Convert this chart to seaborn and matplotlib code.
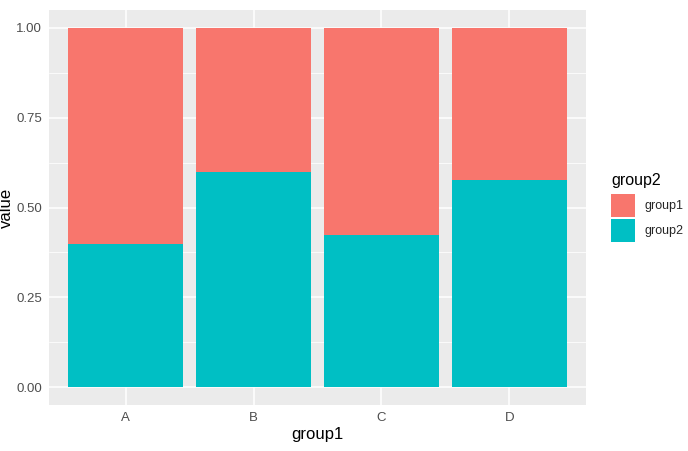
import numpy as np
import pandas as pd
import matplotlib
matplotlib.use("Agg")
from matplotlib import pyplot as plt
from matplotlib.patches import Patch
import seaborn as sns

# data (proportions per bar)
categories = ["A", "B", "C", "D"]
group1_vals = [0.602, 0.402, 0.577, 0.423]
group2_vals = [0.398, 0.598, 0.423, 0.577]

df = pd.DataFrame({"group1": categories,
                   "g1": group1_vals,
                   "g2": group2_vals})
df["top"] = df["g1"] + df["g2"]

red = "#F8766D"
teal = "#00BFC4"

sns.set_theme(style="darkgrid")
plt.rcParams["font.family"] = ["Liberation Sans", "DejaVu Sans"]

fig = plt.figure(figsize=(6.88, 4.51), dpi=100)
ax = fig.add_axes([49 / 688, 45.7 / 451, 537 / 688, 395.6 / 451])
ax.set_facecolor("#EBEBEB")

# stacked: full height in red, then group2 at the bottom in teal
sns.barplot(data=df, x="group1", y="top", color=red, width=0.9,
            saturation=1, linewidth=0, ax=ax, zorder=3)
sns.barplot(data=df, x="group1", y="g2", color=teal, width=0.9,
            saturation=1, linewidth=0, ax=ax, zorder=3)

ax.set_xlim(-0.6, 3.6)
ax.set_ylim(-0.05, 1.05)
ax.set_yticks([0, 0.25, 0.5, 0.75, 1.0])
ax.set_yticklabels(["0.00", "0.25", "0.50", "0.75", "1.00"])
ax.set_yticks([0.125, 0.375, 0.625, 0.875], minor=True)
ax.grid(which="major", color="white", linewidth=1.1, zorder=0)
ax.grid(which="minor", axis="y", color="white", linewidth=0.55, zorder=0)
ax.set_axisbelow(True)
for s in ax.spines.values():
    s.set_visible(False)

ax.tick_params(axis="both", which="major", length=3, width=0.8,
               color="#333333", labelcolor="#4D4D4D", labelsize=9.5, pad=2)
ax.tick_params(axis="both", which="minor", length=0)
ax.set_xlabel("group1", fontsize=12, color="black", labelpad=2)
ax.set_ylabel("value", fontsize=12, color="black")
ax.yaxis.set_label_coords(-35 / 537, 0.5)

# legend: title as separate text, keys below it
fig.text(611 / 688, 1 - 185 / 451, "group2", fontsize=11.5,
         color="black", ha="left", va="baseline")
handles = [Patch(facecolor=red, edgecolor="none", label="group1"),
           Patch(facecolor=teal, edgecolor="none", label="group2")]
leg = fig.legend(handles=handles, loc="upper left",
                 bbox_to_anchor=(611 / 688, 1 - 194 / 451), frameon=False,
                 borderpad=0, borderaxespad=0,
                 fontsize=9, handlelength=1.95, handleheight=2.45,
                 handletextpad=0.75, labelspacing=0.15)

fig.savefig("out.png", dpi=100)
